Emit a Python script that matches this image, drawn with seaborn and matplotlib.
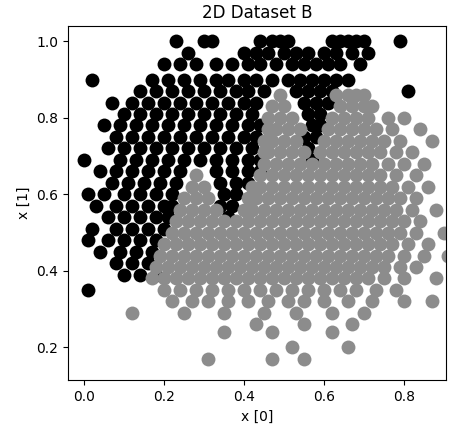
import matplotlib
matplotlib.use("Agg")
import matplotlib.pyplot as plt
import seaborn as sns
import pandas as pd

# class 0 (black): rows of (y, [x...])
black_rows = [
    (1.00, [0.23, 0.30, 0.32, 0.44, 0.47, 0.49, 0.51, 0.62, 0.64, 0.66, 0.68, 0.70, 0.79]),
    (0.97, [0.26, 0.40, 0.43, 0.46, 0.50, 0.53, 0.56, 0.60, 0.63, 0.67, 0.71]),
    (0.94, [0.20, 0.24, 0.28, 0.33, 0.37, 0.41, 0.44, 0.48, 0.52, 0.55, 0.58, 0.61, 0.64, 0.69]),
    (0.90, [0.02, 0.17, 0.21, 0.25, 0.29, 0.33, 0.36, 0.40, 0.43, 0.47, 0.51, 0.54, 0.57, 0.60, 0.63, 0.66]),
    (0.87, [0.14, 0.18, 0.22, 0.26, 0.30, 0.34, 0.38, 0.41, 0.45, 0.53, 0.56, 0.59, 0.62, 0.81]),
    (0.84, [0.07, 0.12, 0.16, 0.20, 0.24, 0.28, 0.32, 0.36, 0.40, 0.43, 0.55, 0.58, 0.61]),
    (0.81, [0.10, 0.14, 0.18, 0.22, 0.26, 0.30, 0.34, 0.38, 0.42, 0.56, 0.59]),
    (0.78, [0.05, 0.09, 0.13, 0.17, 0.21, 0.25, 0.29, 0.33, 0.37, 0.41, 0.44, 0.57, 0.59]),
    (0.75, [0.08, 0.12, 0.16, 0.20, 0.24, 0.28, 0.32, 0.36, 0.40, 0.43, 0.55, 0.58]),
    (0.72, [0.06, 0.10, 0.14, 0.18, 0.22, 0.26, 0.30, 0.34, 0.38, 0.42, 0.56]),
    (0.69, [0.00, 0.09, 0.13, 0.17, 0.21, 0.25, 0.29, 0.33, 0.37, 0.41, 0.44, 0.57]),
    (0.66, [0.04, 0.08, 0.12, 0.16, 0.20, 0.24, 0.33, 0.37, 0.41, 0.44]),
    (0.63, [0.07, 0.11, 0.15, 0.19, 0.23, 0.34, 0.38, 0.41]),
    (0.60, [0.01, 0.05, 0.10, 0.14, 0.18, 0.22, 0.35, 0.38]),
    (0.57, [0.03, 0.08, 0.12, 0.16, 0.20, 0.22, 0.34, 0.37]),
    (0.54, [0.06, 0.10, 0.14, 0.18, 0.21, 0.36]),
    (0.51, [0.02, 0.08, 0.12, 0.16, 0.20]),
    (0.48, [0.01, 0.06, 0.10, 0.14, 0.18]),
    (0.45, [0.04, 0.09, 0.13, 0.17]),
    (0.42, [0.08, 0.12, 0.16]),
    (0.39, [0.10, 0.14, 0.18]),
    (0.35, [0.01]),
]

# class 1 (gray)
gray_rows = [
    (0.86, [0.49, 0.63, 0.66, 0.68, 0.70]),
    (0.83, [0.47, 0.50, 0.64, 0.67, 0.70, 0.72]),
    (0.80, [0.46, 0.49, 0.52, 0.62, 0.65, 0.68, 0.71, 0.76, 0.80]),
    (0.77, [0.46, 0.48, 0.51, 0.54, 0.61, 0.64, 0.67, 0.70, 0.73, 0.77, 0.84]),
    (0.74, [0.45, 0.47, 0.50, 0.53, 0.60, 0.63, 0.66, 0.69, 0.72, 0.75, 0.79, 0.87]),
    (0.71, [0.45, 0.46, 0.49, 0.52, 0.55, 0.59, 0.62, 0.65, 0.68, 0.71, 0.74, 0.78, 0.82]),
    (0.68, [0.45, 0.48, 0.51, 0.54, 0.57, 0.60, 0.63, 0.66, 0.69, 0.72, 0.76, 0.80, 0.85]),
    (0.65, [0.28, 0.44, 0.47, 0.50, 0.53, 0.56, 0.59, 0.62, 0.65, 0.68, 0.71, 0.74, 0.78, 0.83]),
    (0.62, [0.27, 0.30, 0.42, 0.44, 0.47, 0.50, 0.53, 0.56, 0.59, 0.62, 0.65, 0.68, 0.71, 0.74, 0.77, 0.81, 0.86]),
    (0.59, [0.25, 0.28, 0.31, 0.41, 0.43, 0.46, 0.49, 0.52, 0.55, 0.58, 0.61, 0.64, 0.67, 0.70, 0.73, 0.76, 0.79, 0.83]),
    (0.56, [0.24, 0.27, 0.30, 0.33, 0.40, 0.42, 0.45, 0.48, 0.51, 0.54, 0.57, 0.60, 0.63, 0.66, 0.69, 0.72, 0.75, 0.78, 0.82, 0.88]),
    (0.53, [0.23, 0.26, 0.29, 0.32, 0.35, 0.38, 0.41, 0.44, 0.47, 0.50, 0.53, 0.56, 0.59, 0.62, 0.65, 0.68, 0.71, 0.74, 0.77, 0.80, 0.84]),
    (0.50, [0.22, 0.25, 0.28, 0.31, 0.34, 0.37, 0.40, 0.43, 0.46, 0.49, 0.52, 0.55, 0.58, 0.61, 0.64, 0.67, 0.70, 0.73, 0.76, 0.79, 0.83, 0.90]),
    (0.47, [0.20, 0.23, 0.26, 0.29, 0.32, 0.35, 0.38, 0.41, 0.44, 0.47, 0.50, 0.53, 0.56, 0.59, 0.62, 0.65, 0.68, 0.71, 0.74, 0.77, 0.81, 0.86]),
    (0.44, [0.19, 0.22, 0.25, 0.28, 0.31, 0.34, 0.37, 0.40, 0.43, 0.46, 0.49, 0.52, 0.55, 0.58, 0.61, 0.64, 0.67, 0.70, 0.73, 0.76, 0.80, 0.85, 0.91]),
    (0.41, [0.18, 0.21, 0.24, 0.27, 0.30, 0.33, 0.36, 0.39, 0.42, 0.45, 0.48, 0.51, 0.54, 0.57, 0.60, 0.63, 0.66, 0.69, 0.72, 0.75, 0.79, 0.83]),
    (0.38, [0.17, 0.20, 0.23, 0.26, 0.29, 0.32, 0.35, 0.38, 0.41, 0.44, 0.47, 0.50, 0.53, 0.56, 0.59, 0.62, 0.65, 0.68, 0.71, 0.75, 0.80, 0.88]),
    (0.35, [0.20, 0.24, 0.28, 0.32, 0.36, 0.40, 0.44, 0.48, 0.52, 0.56, 0.60, 0.64, 0.68, 0.73, 0.78]),
    (0.32, [0.22, 0.27, 0.31, 0.36, 0.41, 0.46, 0.51, 0.55, 0.60, 0.66, 0.72, 0.80, 0.87]),
    (0.29, [0.12, 0.25, 0.35, 0.45, 0.53, 0.62, 0.70]),
    (0.26, [0.43, 0.55, 0.67]),
    (0.24, [0.35, 0.47, 0.62]),
    (0.20, [0.52, 0.66]),
    (0.17, [0.31, 0.47, 0.55]),
]

def to_df(rows):
    xs, ys = [], []
    for y, row in rows:
        for x in row:
            xs.append(x)
            ys.append(y)
    return pd.DataFrame({"x0": xs, "x1": ys})

dfb = to_df(black_rows)
dfg = to_df(gray_rows)

fig, ax = plt.subplots(figsize=(4.74, 4.34), dpi=100)
sns.scatterplot(data=dfb, x="x0", y="x1", color="black", s=100, linewidth=0, ax=ax)
sns.scatterplot(data=dfg, x="x0", y="x1", color="#8c8c8c", s=100, linewidth=0, ax=ax)
ax.set_xlim(-0.04, 0.905)
ax.set_ylim(0.114, 1.04)
ax.set_xticks([0.0, 0.2, 0.4, 0.6, 0.8])
ax.set_yticks([0.2, 0.4, 0.6, 0.8, 1.0])
ax.set_title("2D Dataset B")
ax.set_xlabel("x [0]")
ax.set_ylabel("x [1]")
fig.subplots_adjust(left=0.143, right=0.941, top=0.94, bottom=0.124)
fig.savefig("out.png", dpi=100)
